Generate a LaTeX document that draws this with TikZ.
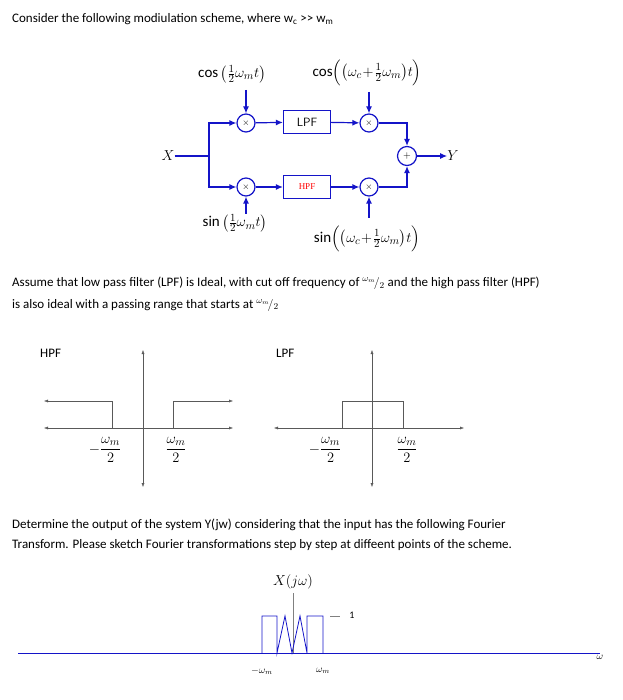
\documentclass[tikz,border=0pt]{standalone}
\usepackage{amsmath}
\usepackage{fontspec}
\setmainfont{Carlito}
\usetikzlibrary{arrows.meta}
\definecolor{bl}{RGB}{20,20,200}
\begin{document}
\begin{tikzpicture}[x=1pt,y=-1pt,
  mul/.style={circle,draw=bl,line width=1.2pt,minimum size=18pt,inner sep=0pt,font=\small},
  sumn/.style={circle,draw=bl,line width=1.2pt,minimum size=19pt,inner sep=0pt},
  blk/.style={draw=bl,line width=1.2pt,minimum width=47pt,minimum height=23pt,inner sep=0pt},
  sig/.style={bl,line width=1.2pt,-{Latex[length=7pt,width=6pt]}},
  ax/.style={gray!70!black,{Latex[length=4pt]}-{Latex[length=4pt]}},
  txt/.style={anchor=west,inner sep=0pt,font=\fontsize{13}{15}\selectfont},
  ml/.style={inner sep=0pt,font=\fontsize{15}{17}\selectfont}]
\useasboundingbox (0,0) rectangle (622,700);
\node[txt] (t1) at (12,19) {Consider the following modiulation scheme, where w\textsubscript{c} {>}{>} w\textsubscript{m}};
% block diagram
\node[ml] (c1) at (232,74) {$\cos\left(\frac12\omega_m t\right)$};
\node[ml] (c2) at (367,73) {$\cos\Bigl(\bigl(\omega_c\!+\!\frac12\omega_m\bigr)t\Bigr)$};
\node[mul] (m1) at (246,123) {$\times$};
\node[blk] (lpf) at (307,122) {\sffamily\large LPF};
\node[mul] (m2) at (369,123) {$\times$};
\node[sumn] (s) at (407,156) {$+$};
\node[mul] (m3) at (246,187) {$\times$};
\node[blk] (hpf) at (307,187) {\color{red}\fontspec{Liberation Serif}\small HPF};
\node[mul] (m4) at (369,187) {$\times$};
\node[ml] (X) at (168,156) {$X$};
\node[ml] (Y) at (453,156) {$Y$};
\node[ml] (s1) at (235,223) {$\sin\left(\frac12\omega_m t\right)$};
\node[ml] (s2) at (367,239) {$\sin\Bigl(\bigl(\omega_c\!+\!\frac12\omega_m\bigr)t\Bigr)$};
\coordinate (b) at (209,156);
\draw[sig] (X) -- (b) |- (m1);
\draw[sig] (b) |- (m3);
\draw[sig] (m1) -- (lpf);
\draw[sig] (lpf) -- (m2);
\draw[sig] (m3) -- (hpf);
\draw[sig] (hpf) -- (m4);
\draw[sig] (m2) -| (s);
\draw[sig] (m4) -| (s);
\draw[sig] (s) -- (Y);
\draw[sig] (246,90) -- (m1);
\draw[sig] (369,92) -- (m2);
\draw[sig] (246,214) -- (m3);
\draw[sig] (369,218) -- (m4);
\node[txt] (t2) at (12,283) {Assume that low pass filter (LPF) is Ideal, with cut off frequency of ${}^{\omega_m}\!/_2$ and the high pass filter (HPF)};
\node[txt] (t3) at (12,305) {is also ideal with a passing range that starts at ${}^{\omega_m}\!/_2$};
% HPF plot
\node[txt] (hl) at (40,353) {HPF};
\draw[ax] (143,350) -- (143,487);
\draw[ax] (44,428) -- (233,428);
\draw[gray!70!black,{Latex[length=4pt]}-] (44,401) -- (112,401) -- (112,428);
\draw[gray!70!black,-{Latex[length=4pt]}] (173,428) -- (173,401) -- (233,401);
\node[ml] (h1) at (105,450) {$-\dfrac{\omega_m}{2}$};
\node[ml] (h2) at (176,450) {$\dfrac{\omega_m}{2}$};
% LPF plot
\node[txt] (ll) at (276,353) {LPF};
\draw[ax] (372,350) -- (372,487);
\draw[ax] (274,428) -- (464,428);
\draw[gray!70!black] (342,428) -- (342,401) -- (403,401) -- (403,428);
\node[ml] (l1) at (325,450) {$-\dfrac{\omega_m}{2}$};
\node[ml] (l2) at (407,450) {$\dfrac{\omega_m}{2}$};
\node[txt] (t4) at (12,525) {Determine the output of the system Y(jw) considering that the input has the following Fourier};
\node[txt] (t5) at (12,545) {Transform. Please sketch Fourier transformations step by step at diffeent points of the scheme.};
% spectrum
\node[ml] (xj) at (293,582) {$X(j\omega)$};
\draw[gray] (293,593) -- (293,653);
\draw[bl,thick] (18,653) -- (600,653);
\draw[bl,thick] (262,653) -- (262,616) -- (277,616) -- (277,653) -- (285,616) -- (292,653) -- (300,616) -- (307,653) -- (307,616) -- (323,616) -- (323,653);
\draw[gray] (330,616) -- (340,616);
\node[ml,font=\normalsize] (one) at (352,615) {1};
\node[ml,font=\normalsize] (a1) at (262,671) {$-\omega_m$};
\node[ml,font=\normalsize] (a2) at (323,671) {$\omega_m$};
\node[ml,font=\normalsize] (w) at (600,657) {$\omega$};
\end{tikzpicture}
\end{document}
